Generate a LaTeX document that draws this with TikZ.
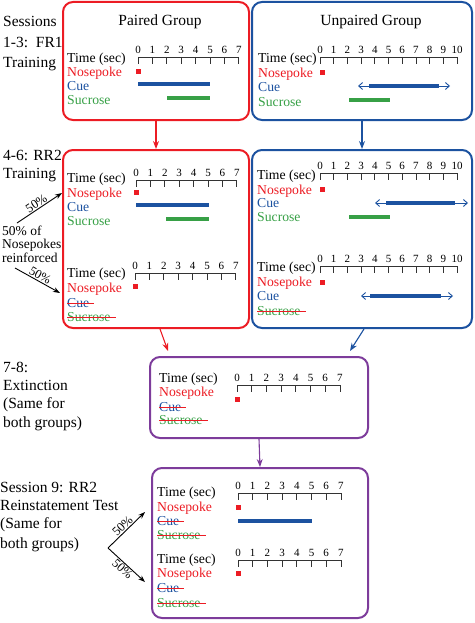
\documentclass[tikz,border=0pt]{standalone}
\usepackage{fontspec}
\setmainfont{Liberation Serif}
\usetikzlibrary{arrows.meta,calc}
\definecolor{cred}{RGB}{236,28,36}
\definecolor{cblue}{RGB}{28,82,160}
\definecolor{cgreen}{RGB}{55,160,70}
\definecolor{cpurple}{RGB}{125,60,155}
\tikzset{
  box/.style={draw, line width=2pt, rounded corners=10pt, inner sep=0pt},
  lbl/.style={anchor=base west, inner sep=0pt, font=\fontsize{13.7}{15}\selectfont},
  sess/.style={anchor=base west, inner sep=0pt, font=\fontsize{15.5}{17}\selectfont},
  sesssmall/.style={anchor=base west, inner sep=0pt, font=\fontsize{13.5}{15}\selectfont},
  title/.style={inner sep=0pt, font=\fontsize{15.5}{17}\selectfont},
  num/.style={inner sep=0pt, font=\fontsize{11}{12}\selectfont},
  pct/.style={inner sep=1pt, font=\fontsize{12.5}{14}\selectfont},
  axisline/.style={line width=0.7pt, black!80},
  cuebar/.style={line width=4pt, cblue},
  sucbar/.style={line width=4pt, cgreen},
  cuearr/.style={line width=0.9pt, cblue, {Straight Barb[length=4pt,width=7pt]}-{Straight Barb[length=4pt,width=7pt]}},
  strike/.style={cred, line width=0.8pt},
  flow/.style={line width=1.1pt, -{Stealth[length=8pt,width=6pt]}},
  pctarr/.style={line width=0.9pt, black, -{Stealth[length=7pt,width=5pt]}},
}
\newcommand{\TAxis}[5]{%
  \draw[axisline] (#2,#3) -- ({#2+#5*#4},#3);
  \foreach \k in {0,...,#5}{
    \draw[axisline] ({#2+\k*#4},#3) -- ({#2+\k*#4},{#3+7});
    \node[num] (#1-\k) at ({#2+\k*#4},{#3-7.5}) {\k};
  }}
\newcommand{\NP}[2]{\fill[cred] ({#1-2.5},{#2-2.5}) rectangle ({#1+2.5},{#2+2.5});}
\newcommand{\Lbl}[5]{\node[lbl, text=#4] (#1) at (#2,{#3+4.5}) {#5};}
\newcommand{\SLbl}[5]{\Lbl{#1}{#2}{#3}{#4}{#5}\draw[strike] ([yshift=4pt]#1.base west) -- ([yshift=4pt,xshift=5pt]#1.base east);}
\newcommand{\Ses}[4]{\node[sess] (#1) at (#2,{#3+5}) {#4};}
\begin{document}
\begin{tikzpicture}[x=1pt,y=-1pt]
\useasboundingbox (0,0) rectangle (474,623);

% boxes
\node[box, draw=cred, minimum width=186pt, minimum height=118pt] (pb1) at (156,61) {};
\node[box, draw=cblue, minimum width=220pt, minimum height=118pt] (ub1) at (362,61) {};
\node[box, draw=cred, minimum width=186pt, minimum height=178pt] (pb2) at (156,239) {};
\node[box, draw=cblue, minimum width=220pt, minimum height=178pt] (ub2) at (362,239) {};
\node[box, draw=cpurple, minimum width=218pt, minimum height=81pt] (ext) at (259,397.5) {};
\node[box, draw=cpurple, minimum width=216pt, minimum height=150pt] (rein) at (260,543) {};

% flow arrows
\draw[flow, cred] (pb1.south) -- (pb2.north);
\draw[flow, cblue] (ub1.south) -- (ub2.north);
\draw[flow, cred] ([xshift=4pt]pb2.south) -- ([xshift=-91pt,yshift=5pt]ext.north);
\draw[flow, cblue] ([xshift=2pt]ub2.south) -- ([xshift=91pt,yshift=5pt]ext.north);
\draw[flow, cpurple] (ext.south) -- (rein.north);

% titles
\node[title] (pt) at (160,22) {Paired Group};
\node[title] (ut) at (371,22) {Unpaired Group};

% session labels
\Ses{s1}{3}{22}{Sessions}
\Ses{s2}{3}{43}{1-3:~~FR1}
\Ses{s3}{3}{63}{Training}
\Ses{s4}{3}{155}{4-6: RR2}
\Ses{s5}{3}{173}{Training}
\node[sesssmall] (s6) at (2,235) {50\% of};
\node[sesssmall] (s7) at (2,248) {Nosepokes};
\node[sesssmall] (s8) at (2,262) {reinforced};
\Ses{s9}{3}{367}{7-8:}
\Ses{s10}{3}{385}{Extinction}
\Ses{s11}{3}{403}{(Same for}
\Ses{s12}{3}{422}{both groups)}
\Ses{s13}{0}{487}{Session 9: RR2}
\Ses{s14}{0}{505}{Reinstatement Test}
\Ses{s15}{0}{523}{(Same for}
\Ses{s16}{0}{543}{both groups)}

% 50% arrows
\coordinate (a1s) at (17,223);
\coordinate (a1e) at (62,193);
\coordinate (a2s) at (15,268);
\coordinate (a2e) at (60,293);
\draw[pctarr] (a1s) -- node[pct, sloped, above] (pc1) {50\%} (a1e);
\draw[pctarr] (a2s) -- node[pct, sloped, above] (pc2) {50\%} (a2e);
\coordinate (v) at (108,548);
\coordinate (v1) at (145,512);
\coordinate (v2) at (145,582);
\draw[pctarr] (v) -- node[pct, sloped, above] (pc3) {50\%} (v1);
\draw[pctarr] (v) -- node[pct, sloped, below] (pc4) {50\%} (v2);

% ---- Paired FR1
\Lbl{p1t}{67}{58}{black}{Time (sec)}
\Lbl{p1n}{67}{72}{cred}{Nosepoke}
\Lbl{p1c}{67}{86}{cblue}{Cue}
\Lbl{p1s}{67}{100}{cgreen}{Sucrose}
\TAxis{p1a}{138}{57}{14.4}{7}
\NP{138}{72}
\draw[cuebar] (138,84) -- (210,84);
\draw[sucbar] (167,98) -- (210,98);

% ---- Unpaired FR1
\Lbl{u1t}{258}{58}{black}{Time (sec)}
\Lbl{u1n}{258}{73}{cred}{Nosepoke}
\Lbl{u1c}{258}{87}{cblue}{Cue}
\Lbl{u1s}{258}{102}{cgreen}{Sucrose}
\TAxis{u1a}{320}{57}{13.7}{10}
\NP{322}{73}
\draw[cuearr] (358,86) -- (450,86);
\draw[cuebar] (369,86) -- (439,86);
\draw[sucbar] (349,100) -- (390,100);

% ---- Paired RR2 A
\Lbl{p2t}{67}{178}{black}{Time (sec)}
\Lbl{p2n}{67}{193}{cred}{Nosepoke}
\Lbl{p2c}{67}{207}{cblue}{Cue}
\Lbl{p2s}{67}{221}{cgreen}{Sucrose}
\TAxis{p2a}{136}{180}{14.4}{7}
\NP{136}{192}
\draw[cuebar] (136,205) -- (209,205);
\draw[sucbar] (166,219) -- (209,219);

% ---- Paired RR2 B
\Lbl{p3t}{67}{273}{black}{Time (sec)}
\Lbl{p3n}{67}{288}{cred}{Nosepoke}
\SLbl{p3c}{67}{303}{cblue}{Cue}
\SLbl{p3s}{67}{317}{cgreen}{Sucrose}
\TAxis{p3a}{135}{273}{14.4}{7}
\NP{135}{286}

% ---- Unpaired RR2 A
\Lbl{u2t}{257}{175}{black}{Time (sec)}
\Lbl{u2n}{257}{190}{cred}{Nosepoke}
\Lbl{u2c}{257}{203}{cblue}{Cue}
\Lbl{u2s}{257}{217}{cgreen}{Sucrose}
\TAxis{u2a}{320}{173}{13.7}{10}
\NP{322}{189}
\draw[cuearr] (375,203) -- (468,203);
\draw[cuebar] (386,203) -- (455,203);
\draw[sucbar] (349,217) -- (390,217);

% ---- Unpaired RR2 B
\Lbl{u3t}{257}{267}{black}{Time (sec)}
\Lbl{u3n}{257}{282}{cred}{Nosepoke}
\Lbl{u3c}{257}{296}{cblue}{Cue}
\SLbl{u3s}{257}{311}{cgreen}{Sucrose}
\TAxis{u3a}{320}{266}{13.7}{10}
\NP{322}{282}
\draw[cuearr] (361,296) -- (453,296);
\draw[cuebar] (370,296) -- (441,296);

% ---- Extinction
\Lbl{e1t}{159}{378}{black}{Time (sec)}
\Lbl{e1n}{159}{392}{cred}{Nosepoke}
\SLbl{e1c}{159}{407}{cblue}{Cue}
\SLbl{e1s}{159}{420}{cgreen}{Sucrose}
\TAxis{e1a}{237}{385}{14.7}{7}
\NP{237}{399}

% ---- Reinstatement A
\Lbl{r1t}{157}{492}{black}{Time (sec)}
\Lbl{r1n}{157}{507}{cred}{Nosepoke}
\SLbl{r1c}{157}{521}{cblue}{Cue}
\SLbl{r1s}{157}{535}{cgreen}{Sucrose}
\TAxis{r1a}{238}{493}{14.7}{7}
\NP{238}{507}
\draw[cuebar] (238,521) -- (312,521);

% ---- Reinstatement B
\Lbl{r2t}{157}{559}{black}{Time (sec)}
\Lbl{r2n}{157}{573}{cred}{Nosepoke}
\SLbl{r2c}{157}{588}{cblue}{Cue}
\SLbl{r2s}{157}{603}{cgreen}{Sucrose}
\TAxis{r2a}{238}{560}{14.7}{7}
\NP{238}{573}
\end{tikzpicture}
\end{document}
